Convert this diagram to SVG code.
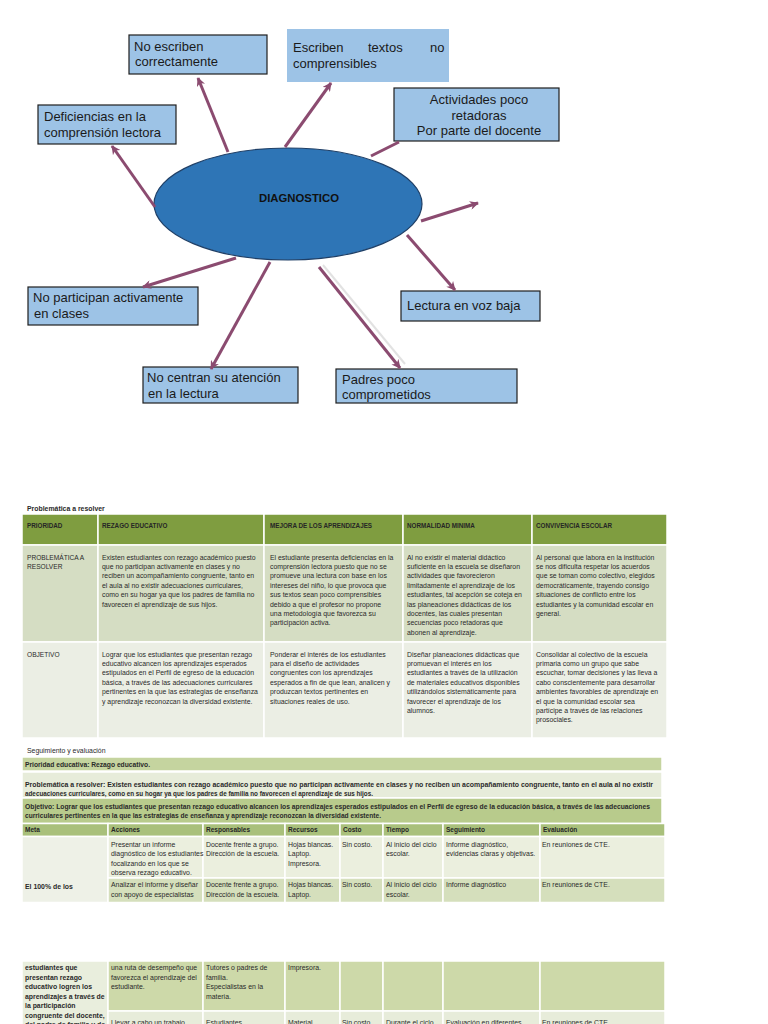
<svg xmlns="http://www.w3.org/2000/svg" width="768" height="1024" viewBox="0 0 768 1024">
<defs>
<style>
.lbl{font-family:"Liberation Sans",Arial,sans-serif;font-size:13px;fill:#1a1a1a}
.box{fill:#9DC3E6;stroke:#1e1e1e;stroke-width:1.2}
.conn{stroke:#8B4B70;stroke-width:3;fill:none}
.t{font-family:"Liberation Sans",Arial,sans-serif;font-size:6.9px;fill:#2a2a2a}
.b{font-weight:bold}
.cap{font-family:"Liberation Sans",Arial,sans-serif;font-size:6.6px;fill:#2a2a2a}
.hd{font-family:"Liberation Sans",Arial,sans-serif;font-size:6.3px;font-weight:bold;fill:#262626}
.hd2{font-family:"Liberation Sans",Arial,sans-serif;font-size:6.5px;font-weight:bold;fill:#262626}
.cell{stroke:#ffffff;stroke-width:1.5}
</style>
<marker id="ah" viewBox="0 0 10 10" refX="9" refY="5" markerWidth="10" markerHeight="9" markerUnits="userSpaceOnUse" orient="auto">
<path d="M0,0 L10,5 L0,10 L3,5 Z" fill="#8B4B70"/>
</marker>
</defs>
<rect width="768" height="1024" fill="#ffffff"/>

<g id="diagnostico">
<ellipse cx="288" cy="204" rx="134" ry="56" fill="#2E75B6" stroke="#1F3F66" stroke-width="1.2"/>
<text x="299" y="202" text-anchor="middle" font-family="'Liberation Sans',Arial,sans-serif" font-size="11" font-weight="bold" fill="#111" textLength="80" lengthAdjust="spacingAndGlyphs">DIAGNOSTICO</text>
</g>

<g id="no-escriben">
<rect class="box" x="129" y="35" width="138" height="39"/>
<text class="lbl" x="134" y="51">No escriben</text>
<text class="lbl" x="135" y="66"> correctamente</text>
</g>

<g id="escriben-textos">
<rect x="287" y="29" width="162" height="53" fill="#9DC3E6"/>
<text class="lbl" y="52"><tspan x="293">Escriben</tspan><tspan x="368">textos</tspan><tspan x="430">no</tspan></text>
<text class="lbl" x="293" y="68">comprensibles</text>
</g>

<g id="actividades">
<rect class="box" x="394" y="88" width="165" height="53"/>
<text class="lbl" x="479" y="104" text-anchor="middle">Actividades poco</text>
<text class="lbl" x="479" y="120" text-anchor="middle">retadoras</text>
<text class="lbl" x="479" y="135" text-anchor="middle">Por parte del docente</text>
</g>

<g id="deficiencias">
<rect class="box" x="38" y="105" width="138" height="39"/>
<text class="lbl" x="44" y="121">Deficiencias en la</text>
<text class="lbl" x="44" y="137">comprensión lectora</text>
</g>

<g id="no-participan">
<rect class="box" x="28" y="287" width="170" height="38"/>
<text class="lbl" x="33" y="302">No participan activamente</text>
<text class="lbl" x="34" y="318"> en clases</text>
</g>

<g id="lectura">
<rect class="box" x="401" y="291" width="139" height="30"/>
<text class="lbl" x="407" y="310">Lectura en voz baja</text>
</g>

<g id="no-centran">
<rect class="box" x="143" y="367" width="155" height="36"/>
<text class="lbl" x="147" y="382">No centran su atención</text>
<text class="lbl" x="148" y="398"> en la lectura</text>
</g>

<g id="padres">
<rect class="box" x="336" y="369" width="181" height="34"/>
<text class="lbl" x="342" y="384">Padres poco</text>
<text class="lbl" x="342" y="399">comprometidos</text>
</g>

<g id="connectors">
<line x1="323" y1="265" x2="405" y2="364" stroke="#e2e2e2" stroke-width="2"/>
<line class="conn" x1="228" y1="152" x2="198" y2="78" marker-end="url(#ah)"/>
<line class="conn" x1="285" y1="147" x2="331" y2="83" marker-end="url(#ah)"/>
<line class="conn" x1="371" y1="156" x2="399" y2="142"/>
<line class="conn" x1="155" y1="207" x2="112" y2="146" marker-end="url(#ah)"/>
<line class="conn" x1="421" y1="221" x2="478" y2="203" marker-end="url(#ah)"/>
<line class="conn" x1="407" y1="235" x2="455" y2="290" marker-end="url(#ah)"/>
<line class="conn" x1="319" y1="267" x2="400" y2="368" marker-end="url(#ah)"/>
<line class="conn" x1="270" y1="262" x2="211" y2="369" marker-end="url(#ah)"/>
<line class="conn" x1="236" y1="258" x2="143" y2="287" marker-end="url(#ah)"/>
</g>

<g id="tabla-problematica">
<text class="t b" x="27" y="511">Problemática a resolver</text>
<rect class="cell" x="22" y="514" width="76" height="31" fill="#7F9D40"/>
<rect class="cell" x="98" y="514" width="166" height="31" fill="#7F9D40"/>
<rect class="cell" x="264" y="514" width="139" height="31" fill="#7F9D40"/>
<rect class="cell" x="403" y="514" width="129" height="31" fill="#7F9D40"/>
<rect class="cell" x="532" y="514" width="135" height="31" fill="#7F9D40"/>
<rect class="cell" x="22" y="545" width="76" height="97" fill="#D5DDC3"/>
<rect class="cell" x="98" y="545" width="166" height="97" fill="#D5DDC3"/>
<rect class="cell" x="264" y="545" width="139" height="97" fill="#D5DDC3"/>
<rect class="cell" x="403" y="545" width="129" height="97" fill="#D5DDC3"/>
<rect class="cell" x="532" y="545" width="135" height="97" fill="#D5DDC3"/>
<rect class="cell" x="22" y="642" width="76" height="96" fill="#EBEEE4"/>
<rect class="cell" x="98" y="642" width="166" height="96" fill="#EBEEE4"/>
<rect class="cell" x="264" y="642" width="139" height="96" fill="#EBEEE4"/>
<rect class="cell" x="403" y="642" width="129" height="96" fill="#EBEEE4"/>
<rect class="cell" x="532" y="642" width="135" height="96" fill="#EBEEE4"/>
<text class="hd" x="27" y="528">PRIORIDAD</text>
<text class="hd" x="102" y="528">REZAGO EDUCATIVO</text>
<text class="hd" x="270" y="528">MEJORA DE LOS APRENDIZAJES</text>
<text class="hd" x="407" y="528">NORMALIDAD MINIMA</text>
<text class="hd" x="536" y="528">CONVIVENCIA ESCOLAR</text>
<text class="cap" x="27" y="559.5">PROBLEMÁTICA A</text>
<text class="cap" x="27" y="569">RESOLVER</text>
<text class="t" x="102" y="559.5">Existen estudiantes con rezago académico puesto</text>
<text class="t" x="102" y="568.9">que no participan activamente en clases y no</text>
<text class="t" x="102" y="578.3">reciben un acompañamiento congruente, tanto en</text>
<text class="t" x="102" y="587.7">el aula al no existir adecuaciones curriculares,</text>
<text class="t" x="102" y="597.1">como en su hogar ya que los padres de familia no</text>
<text class="t" x="102" y="606.5">favorecen el aprendizaje de sus hijos.</text>
<text class="t" x="270" y="559.5">El estudiante presenta deficiencias en la</text>
<text class="t" x="270" y="568.9">comprensión lectora puesto que no se</text>
<text class="t" x="270" y="578.3">promueve una lectura con base en los</text>
<text class="t" x="270" y="587.7">intereses del niño, lo que provoca que</text>
<text class="t" x="270" y="597.1">sus textos sean poco comprensibles</text>
<text class="t" x="270" y="606.5">debido a que el profesor no propone</text>
<text class="t" x="270" y="615.9">una metodología que favorezca su</text>
<text class="t" x="270" y="625.3">participación activa.</text>
<text class="t" x="407" y="559.5">Al no existir el material didáctico</text>
<text class="t" x="407" y="568.9">suficiente en la escuela se diseñaron</text>
<text class="t" x="407" y="578.3">actividades que favorecieron</text>
<text class="t" x="407" y="587.7">limitadamente el aprendizaje de los</text>
<text class="t" x="407" y="597.1">estudiantes, tal acepción se coteja en</text>
<text class="t" x="407" y="606.5">las planeaciones didácticas de los</text>
<text class="t" x="407" y="615.9">docentes, las cuales presentan</text>
<text class="t" x="407" y="625.3">secuencias poco retadoras que</text>
<text class="t" x="407" y="634.7">abonen al aprendizaje.</text>
<text class="t" x="536" y="559.5">Al personal que labora en la institución</text>
<text class="t" x="536" y="568.9">se nos dificulta respetar los acuerdos</text>
<text class="t" x="536" y="578.3">que se toman como colectivo, elegidos</text>
<text class="t" x="536" y="587.7">democráticamente, trayendo consigo</text>
<text class="t" x="536" y="597.1">situaciones de conflicto entre los</text>
<text class="t" x="536" y="606.5">estudiantes y la comunidad escolar en</text>
<text class="t" x="536" y="615.9">general.</text>
<text class="cap" x="27" y="656.5">OBJETIVO</text>
<text class="t" x="102" y="656.5">Lograr que los estudiantes que presentan rezago</text>
<text class="t" x="102" y="665.9">educativo alcancen los aprendizajes esperados</text>
<text class="t" x="102" y="675.3">estipulados en el Perfil de egreso de la educación</text>
<text class="t" x="102" y="684.7">básica, a través de las adecuaciones curriculares</text>
<text class="t" x="102" y="694.1">pertinentes en la que las estrategias de enseñanza</text>
<text class="t" x="102" y="703.5">y aprendizaje reconozcan la diversidad existente.</text>
<text class="t" x="270" y="656.5">Ponderar el interés de los estudiantes</text>
<text class="t" x="270" y="665.9">para el diseño de actividades</text>
<text class="t" x="270" y="675.3">congruentes con los aprendizajes</text>
<text class="t" x="270" y="684.7">esperados a fin de que lean, analicen y</text>
<text class="t" x="270" y="694.1">produzcan textos pertinentes en</text>
<text class="t" x="270" y="703.5">situaciones reales de uso.</text>
<text class="t" x="407" y="656.5">Diseñar planeaciones didácticas que</text>
<text class="t" x="407" y="665.9">promuevan el interés en los</text>
<text class="t" x="407" y="675.3">estudiantes a través de la utilización</text>
<text class="t" x="407" y="684.7">de materiales educativos disponibles</text>
<text class="t" x="407" y="694.1">utilizándolos sistemáticamente para</text>
<text class="t" x="407" y="703.5">favorecer el aprendizaje de los</text>
<text class="t" x="407" y="712.9">alumnos.</text>
<text class="t" x="536" y="656.5">Consolidar al colectivo de la escuela</text>
<text class="t" x="536" y="665.9">primaria como un grupo que sabe</text>
<text class="t" x="536" y="675.3">escuchar, tomar decisiones y las lleva a</text>
<text class="t" x="536" y="684.7">cabo conscientemente para desarrollar</text>
<text class="t" x="536" y="694.1">ambientes favorables de aprendizaje en</text>
<text class="t" x="536" y="703.5">el que la comunidad escolar sea</text>
<text class="t" x="536" y="712.9">partícipe a través de las relaciones</text>
<text class="t" x="536" y="722.3">prosociales.</text>
</g>

<g id="tabla-seguimiento">
<text class="t" x="27" y="753">Seguimiento y evaluación</text>
<rect class="cell" x="22" y="757" width="640" height="14" fill="#C5D49F"/>
<rect class="cell" x="22" y="772" width="640" height="26" fill="#E7ECDA"/>
<rect class="cell" x="22" y="798" width="640" height="25.5" fill="#B8CB8C"/>
<text class="t b" x="25" y="767" textLength="125" lengthAdjust="spacingAndGlyphs">Prioridad educativa: Rezago educativo.</text>
<text class="t b" x="25" y="786.5" textLength="628" lengthAdjust="spacingAndGlyphs">Problemática a resolver: Existen estudiantes con rezago académico puesto que no participan activamente en clases y no reciben un acompañamiento congruente, tanto en el aula al no existir</text>
<text class="t b" x="25" y="796" textLength="348" lengthAdjust="spacingAndGlyphs">adecuaciones curriculares, como en su hogar ya que los padres de familia no favorecen el aprendizaje de sus hijos.</text>
<text class="t b" x="25" y="808.5" textLength="625" lengthAdjust="spacingAndGlyphs">Objetivo: Lograr que los estudiantes que presentan rezago educativo alcancen los aprendizajes esperados estipulados en el Perfil de egreso de la educación básica, a través de las adecuaciones</text>
<text class="t b" x="25" y="818" textLength="356" lengthAdjust="spacingAndGlyphs">curriculares pertinentes en la que las estrategias de enseñanza y aprendizaje reconozcan la diversidad existente.</text>
<rect class="cell" x="22" y="823.5" width="86" height="13" fill="#A9C07B"/>
<rect class="cell" x="108" y="823.5" width="95" height="13" fill="#A9C07B"/>
<rect class="cell" x="203" y="823.5" width="82" height="13" fill="#A9C07B"/>
<rect class="cell" x="285" y="823.5" width="55" height="13" fill="#A9C07B"/>
<rect class="cell" x="340" y="823.5" width="43" height="13" fill="#A9C07B"/>
<rect class="cell" x="383" y="823.5" width="60" height="13" fill="#A9C07B"/>
<rect class="cell" x="443" y="823.5" width="97" height="13" fill="#A9C07B"/>
<rect class="cell" x="540" y="823.5" width="125" height="13" fill="#A9C07B"/>
<text class="hd2" x="25" y="832">Meta</text>
<text class="hd2" x="111" y="832">Acciones</text>
<text class="hd2" x="206" y="832">Responsables</text>
<text class="hd2" x="288" y="832">Recursos</text>
<text class="hd2" x="343" y="832">Costo</text>
<text class="hd2" x="386" y="832">Tiempo</text>
<text class="hd2" x="446" y="832">Seguimiento</text>
<text class="hd2" x="543" y="832">Evaluación</text>
<rect class="cell" x="22" y="836.5" width="86" height="66" fill="#EEF1E7"/>
<rect class="cell" x="108" y="836.5" width="95" height="41.5" fill="#EBEFDE"/>
<rect class="cell" x="203" y="836.5" width="82" height="41.5" fill="#EBEFDE"/>
<rect class="cell" x="285" y="836.5" width="55" height="41.5" fill="#EBEFDE"/>
<rect class="cell" x="340" y="836.5" width="43" height="41.5" fill="#EBEFDE"/>
<rect class="cell" x="383" y="836.5" width="60" height="41.5" fill="#EBEFDE"/>
<rect class="cell" x="443" y="836.5" width="97" height="41.5" fill="#EBEFDE"/>
<rect class="cell" x="540" y="836.5" width="125" height="41.5" fill="#EBEFDE"/>
<rect class="cell" x="108" y="878" width="95" height="24.5" fill="#D5DFBC"/>
<rect class="cell" x="203" y="878" width="82" height="24.5" fill="#D5DFBC"/>
<rect class="cell" x="285" y="878" width="55" height="24.5" fill="#D5DFBC"/>
<rect class="cell" x="340" y="878" width="43" height="24.5" fill="#D5DFBC"/>
<rect class="cell" x="383" y="878" width="60" height="24.5" fill="#D5DFBC"/>
<rect class="cell" x="443" y="878" width="97" height="24.5" fill="#D5DFBC"/>
<rect class="cell" x="540" y="878" width="125" height="24.5" fill="#D5DFBC"/>
<text class="t" x="111" y="846.5">Presentar un informe</text>
<text class="t" x="111" y="856">diagnóstico de los estudiantes</text>
<text class="t" x="111" y="865.5">focalizando en los que se</text>
<text class="t" x="111" y="875">observa rezago educativo.</text>
<text class="t" x="206" y="846.5">Docente frente a grupo.</text>
<text class="t" x="206" y="856">Dirección de la escuela.</text>
<text class="t" x="288" y="846.5">Hojas blancas.</text>
<text class="t" x="288" y="856">Laptop.</text>
<text class="t" x="288" y="865.5">Impresora.</text>
<text class="t" x="342" y="846.5">Sin costo.</text>
<text class="t" x="386" y="846.5">Al inicio del ciclo</text>
<text class="t" x="386" y="856">escolar.</text>
<text class="t" x="446" y="846.5">Informe diagnóstico,</text>
<text class="t" x="446" y="856">evidencias claras y objetivas.</text>
<text class="t" x="542" y="846.5">En reuniones de CTE.</text>
<text class="t b" x="25" y="889">El 100% de los</text>
<text class="t" x="111" y="887">Analizar el informe y diseñar</text>
<text class="t" x="111" y="896.5">con apoyo de especialistas</text>
<text class="t" x="206" y="887">Docente frente a grupo.</text>
<text class="t" x="206" y="896.5">Dirección de la escuela.</text>
<text class="t" x="288" y="887">Hojas blancas.</text>
<text class="t" x="288" y="896.5">Laptop.</text>
<text class="t" x="342" y="887">Sin costo.</text>
<text class="t" x="386" y="887">Al inicio del ciclo</text>
<text class="t" x="386" y="896.5">escolar.</text>
<text class="t" x="446" y="887">Informe diagnóstico</text>
<text class="t" x="542" y="887">En reuniones de CTE.</text>
</g>

<g id="tabla-continuacion">
<rect class="cell" x="22" y="961" width="86" height="64" fill="#E9EEDD"/>
<rect class="cell" x="108" y="961" width="95" height="50" fill="#CDD9A9"/>
<rect class="cell" x="203" y="961" width="82" height="50" fill="#CDD9A9"/>
<rect class="cell" x="285" y="961" width="55" height="50" fill="#CDD9A9"/>
<rect class="cell" x="340" y="961" width="43" height="50" fill="#CDD9A9"/>
<rect class="cell" x="383" y="961" width="60" height="50" fill="#CDD9A9"/>
<rect class="cell" x="443" y="961" width="97" height="50" fill="#CDD9A9"/>
<rect class="cell" x="540" y="961" width="125" height="50" fill="#CDD9A9"/>
<rect class="cell" x="108" y="1011" width="95" height="14" fill="#E7ECDA"/>
<rect class="cell" x="203" y="1011" width="82" height="14" fill="#E7ECDA"/>
<rect class="cell" x="285" y="1011" width="55" height="14" fill="#E7ECDA"/>
<rect class="cell" x="340" y="1011" width="43" height="14" fill="#E7ECDA"/>
<rect class="cell" x="383" y="1011" width="60" height="14" fill="#E7ECDA"/>
<rect class="cell" x="443" y="1011" width="97" height="14" fill="#E7ECDA"/>
<rect class="cell" x="540" y="1011" width="125" height="14" fill="#E7ECDA"/>
<text class="t b" x="25" y="970">estudiantes que</text>
<text class="t b" x="25" y="979.6">presentan rezago</text>
<text class="t b" x="25" y="989.2">educativo logren los</text>
<text class="t b" x="25" y="998.8">aprendizajes a través de</text>
<text class="t b" x="25" y="1008.4">la participación</text>
<text class="t b" x="25" y="1018">congruente del docente,</text>
<text class="t b" x="25" y="1027">del padre de familia y de</text>
<text class="t" x="111" y="970">una ruta de desempeño que</text>
<text class="t" x="111" y="979.6">favorezca el aprendizaje del</text>
<text class="t" x="111" y="989.2">estudiante.</text>
<text class="t" x="206" y="970">Tutores o padres de</text>
<text class="t" x="206" y="979.6">familia.</text>
<text class="t" x="206" y="989.2">Especialistas en la</text>
<text class="t" x="206" y="998.8">materia.</text>
<text class="t" x="288" y="970">Impresora.</text>
<text class="t" x="111" y="1024.5">Llevar a cabo un trabajo</text>
<text class="t" x="206" y="1024.5">Estudiantes.</text>
<text class="t" x="288" y="1024.5">Material</text>
<text class="t" x="342" y="1024.5">Sin costo.</text>
<text class="t" x="386" y="1024.5">Durante el ciclo</text>
<text class="t" x="446" y="1024.5">Evaluación en diferentes</text>
<text class="t" x="542" y="1024.5">En reuniones de CTE.</text>
</g>
</svg>
